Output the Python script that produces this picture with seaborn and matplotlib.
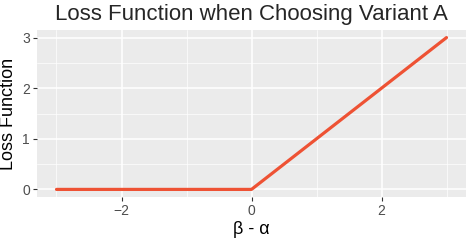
import matplotlib
matplotlib.use("Agg")
import matplotlib.pyplot as plt
import seaborn as sns
import pandas as pd
from matplotlib.ticker import FixedLocator

# data
diff = [-3, 0, 3]
loss = [0, 0, 3]
x_ticks = [-2, 0, 2]
y_ticks = [0, 1, 2, 3]

sns.set_theme(style="darkgrid")
plt.rcParams['font.family'] = ['Liberation Sans', 'DejaVu Sans']

df = pd.DataFrame({"diff": diff, "loss": loss})

fig = plt.figure(figsize=(4.74, 2.41), dpi=100)
ax = fig.add_axes([37/474, 1-197/241, (466-37)/474, (197-30)/241])
ax.set_facecolor("#EBEBEB")
sns.lineplot(data=df, x="diff", y="loss", ax=ax, color="#EE5234", linewidth=2.3)

ax.set_xlim(-3.3, 3.3)
ax.set_ylim(-0.15, 3.15)
ax.xaxis.set_major_locator(FixedLocator(x_ticks))
ax.yaxis.set_major_locator(FixedLocator(y_ticks))
ax.xaxis.set_minor_locator(FixedLocator([-3, -1, 1, 3]))
ax.yaxis.set_minor_locator(FixedLocator([0.5, 1.5, 2.5]))
ax.grid(which="major", color="white", linewidth=1.1)
ax.grid(which="minor", color="white", linewidth=0.5)
ax.set_axisbelow(True)
for s in ax.spines.values():
    s.set_visible(False)
ax.tick_params(which="major", length=3, width=0.8, color="#333333",
               labelsize=10, labelcolor="#4D4D4D", pad=2)
ax.tick_params(which="minor", length=0)
ax.tick_params(axis="both", which="major", bottom=True, left=True)

ax.set_xlabel("β - α", fontsize=13, color="black", labelpad=2)
ax.set_ylabel("Loss Function", fontsize=13, color="black", labelpad=4)
fig.suptitle("Loss Function when Choosing Variant A", fontsize=16,
             x=(37+466)/2/474, y=0.985, va="top")

fig.savefig("out.png", dpi=100)
